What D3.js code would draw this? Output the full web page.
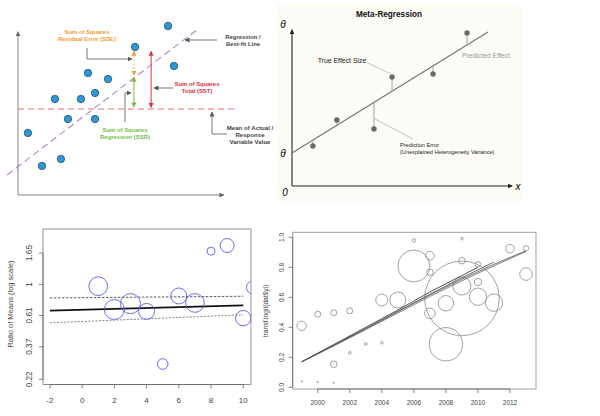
<!DOCTYPE html>
<html lang="en">
<head>
<meta charset="utf-8">
<title>regression panels</title>
<script src="https://cdn.jsdelivr.net/npm/d3@7"></script>
<style>
  body { margin: 0; background: #fff; }
  svg text { font-family: "Liberation Sans", Arial, sans-serif; }
</style>
</head>
<body>
<svg id="chart" width="600" height="416"></svg>
<script>
// ---------- data ----------
// panel 1: sum of squares sketch (arbitrary units 0-100)
var ssX = [68.2, 53.2, 70.9, 31.8, 40.9, 35.0, 16.8, 28.6, 22.7, 35.0, 4.5, 19.5, 10.9];
var ssY = [99.4, 87.1, 75.9, 71.8, 68.2, 60.0, 56.5, 56.5, 44.7, 44.7, 36.5, 21.2, 17.1];
var ssFit = [[-5, 11.8], [81.8, 97.6]];
var ssMean = 50.6;
var sseBar = [52.7, 84.5, 70.5];   // x, top, bottom
var ssrBar = [52.7, 69.3, 51.8];
var sstBar = [60.5, 84.5, 51.5];

// panel 2: meta-regression sketch
var metaX = [0.96, 2.06, 3.76, 4.59, 6.47, 8.03];
var metaY = [2.6, 4.29, 3.70, 7.08, 7.27, 9.94];
var metaIntercept = 2.14, metaSlope = 0.874, metaEnd = 8.99;

// panel 3: ratio of means (log scale)
var romX = [1, 2, 3, 4, 5, 6, 7, 8, 9, 10, 10.6];
var romY = [0.973, 0.67, 0.736, 0.65, 0.281, 0.832, 0.744, 1.70, 1.86, 0.584, 0.953];
var romW = [87, 100, 100, 64, 28, 64, 87, 16, 49, 59, 42];
var romFit = [[-2, 0.658], [10, 0.716]];
var romUpper = [[-2, 0.806], [10, 0.828]];
var romLower = [[-2, 0.542], [10, 0.616]];
var romYTicks = [0.22, 0.37, 0.61, 1, 1.65];
var romXTicks = [-2, 0, 2, 4, 6, 8, 10];

// panel 4: transf. logit by year
var yrX = [1999, 2000, 2001, 2002, 2001, 2002, 2003, 2004, 2004, 2005, 2006, 2006, 2007, 2007,
           2007, 2008, 2008, 2009, 2009, 2009, 2009, 2010, 2010, 2010, 2011, 2012, 2013, 2013,
           1999, 2000, 2001];
var yrY = [0.41, 0.487, 0.497, 0.51, 0.153, 0.23, 0.289, 0.297, 0.582, 0.582, 0.809, 0.98, 0.877, 0.767,
           0.493, 0.287, 0.56, 0.593, 0.675, 0.844, 0.991, 0.82, 0.702, 0.604, 0.564, 0.924, 0.927, 0.755,
           0.04, 0.035, 0.03];
var yrW = [1.6, 0.65, 0.65, 0.65, 0.78, 0.12, 0.12, 0.12, 2.6, 4.6, 18.4, 0.2, 1.33, 0.78,
           2.0, 20, 4.3, 100, 5.8, 0.78, 0.12, 0.52, 0.98, 5.4, 5.4, 1.33, 0.52, 2.85,
           0.03, 0.03, 0.03];
var yrFits = [
  [[1999, 0.17], [2001, 0.285], [2003, 0.40], [2005, 0.515], [2007, 0.635], [2009, 0.745], [2010, 0.80]],
  [[1999, 0.17], [2001, 0.28], [2003, 0.39], [2005, 0.505], [2007, 0.62], [2009, 0.73], [2011, 0.835]],
  [[1999, 0.17], [2001, 0.275], [2003, 0.385], [2005, 0.495], [2007, 0.605], [2009, 0.71], [2011, 0.81], [2013, 0.905]],
  [[1999, 0.17], [2001, 0.28], [2003, 0.392], [2005, 0.505], [2007, 0.615], [2009, 0.72], [2011, 0.82], [2013, 0.91]]
];
var yrXTicks = [2000, 2002, 2004, 2006, 2008, 2010, 2012];
var yrYTicks = [0, 0.2, 0.4, 0.6, 0.8, 1.0];

var svg = d3.select("#chart");

// arrow markers
var defs = svg.append("defs");
function marker(id, color, size) {
  defs.append("marker")
    .attr("id", id)
    .attr("viewBox", "0 0 10 10")
    .attr("refX", 9).attr("refY", 5)
    .attr("markerUnits", "userSpaceOnUse")
    .attr("markerWidth", size).attr("markerHeight", size)
    .attr("orient", "auto-start-reverse")
    .append("path").attr("d", "M0,0L10,5L0,10z").attr("fill", color);
}
marker("arGray", "#555", 5);
marker("arAxis", "#666", 5);
marker("arOrange", "#f39b30", 5);
marker("arGreen", "#76bd43", 5);
marker("arRed", "#d8303a", 5);
marker("arDark", "#222", 5);

var line = d3.line();

// ---------- panel 1 ----------
var p1 = svg.append("g");
var x1 = d3.scaleLinear().domain([0, 100]).range([18, 238]);
var y1 = d3.scaleLinear().domain([0, 100]).range([195, 25]);

p1.append("line").attr("x1", x1(0)).attr("y1", y1(0)).attr("x2", x1(0)).attr("y2", y1(96))
  .attr("stroke", "#777").attr("stroke-width", 0.9).attr("marker-end", "url(#arAxis)");
p1.append("line").attr("x1", x1(0)).attr("y1", y1(0)).attr("x2", x1(93.6)).attr("y2", y1(0))
  .attr("stroke", "#777").attr("stroke-width", 0.9).attr("marker-end", "url(#arAxis)");

p1.append("line").attr("x1", x1(0)).attr("x2", x1(99.5))
  .attr("y1", y1(ssMean)).attr("y2", y1(ssMean))
  .attr("stroke", "#e8706e").attr("stroke-width", 1.1).attr("stroke-dasharray", "6,4");
p1.append("path").attr("d", line(ssFit.map(function (d) { return [x1(d[0]), y1(d[1])]; })))
  .attr("fill", "none").attr("stroke", "#b584c9").attr("stroke-width", 1.1).attr("stroke-dasharray", "7,4");

function bar(b, color, mk, dash) {
  p1.append("line").attr("x1", x1(b[0])).attr("x2", x1(b[0]))
    .attr("y1", y1(b[1])).attr("y2", y1(b[2]))
    .attr("stroke", color).attr("stroke-width", 1).attr("stroke-dasharray", dash)
    .attr("marker-start", "url(#" + mk + ")").attr("marker-end", "url(#" + mk + ")");
}
bar(sseBar, "#f39b30", "arOrange", "1.5,2.5");
bar(ssrBar, "#76bd43", "arGreen", null);
bar(sstBar, "#d8303a", "arRed", null);

p1.selectAll("circle.dot").data(ssX).enter().append("circle")
  .attr("class", "dot")
  .attr("cx", function (d) { return x1(d); })
  .attr("cy", function (d, i) { return y1(ssY[i]); })
  .attr("r", 3.7)
  .attr("fill", "#2e97d6").attr("stroke", "#27506e").attr("stroke-width", 0.8);

// leaders
var leaders1 = [
  [[217, 40], [185, 40]],
  [[87, 48], [87, 59], [132, 59]],
  [[173, 88], [154, 88]],
  [[125, 122], [125, 93], [131, 93]],
  [[227, 134], [212, 134], [212, 112]]
];
leaders1.forEach(function (pts) {
  p1.append("path").attr("d", line(pts)).attr("fill", "none")
    .attr("stroke", "#555").attr("stroke-width", 0.8).attr("marker-end", "url(#arGray)");
});

function label(g, lines, x, y, color, size, weight, dy, anchor) {
  var t = g.append("text").attr("x", x).attr("y", y)
    .attr("fill", color).attr("font-size", size).attr("font-weight", weight || "normal")
    .attr("text-anchor", anchor || "middle");
  lines.forEach(function (s, i) {
    t.append("tspan").attr("x", x).attr("dy", i === 0 ? 0 : dy).text(s);
  });
  return t;
}
label(p1, ["Sum of Squares", "Residual Error (SSE)"], 87, 33.9, "#f39b30", 5.9, "bold", 7.3);
label(p1, ["Regression /", "Best-fit Line"], 243, 38.8, "#444", 5.9, "bold", 6.8);
label(p1, ["Sum of Squares", "Total (SST)"], 197, 85.6, "#d8303a", 5.9, "bold", 7.3);
label(p1, ["Sum of Squares", "Regression (SSR)"], 125, 131.6, "#76bd43", 5.9, "bold", 7.3);
label(p1, ["Mean of Actual /", "Response", "Variable Value"], 250, 129.5, "#444", 6.1, "bold", 7.2);

// ---------- panel 2 ----------
var p2 = svg.append("g");
p2.append("rect").attr("x", 277).attr("y", 4).attr("width", 245).attr("height", 198).attr("fill", "#fcfbf5");
var x2 = d3.scaleLinear().domain([0, 10]).range([292, 510]);
var y2 = d3.scaleLinear().domain([0, 10]).range([186, 32]);

p2.append("line").attr("x1", x2(0)).attr("y1", y2(0)).attr("x2", x2(0)).attr("y2", y2(10.15))
  .attr("stroke", "#222").attr("stroke-width", 1.1).attr("marker-end", "url(#arDark)");
p2.append("line").attr("x1", x2(0)).attr("y1", y2(0)).attr("x2", x2(10.1)).attr("y2", y2(0))
  .attr("stroke", "#222").attr("stroke-width", 1.1).attr("marker-end", "url(#arDark)");

function metaFit(x) { return metaIntercept + metaSlope * x; }
p2.append("line").attr("x1", x2(0)).attr("y1", y2(metaFit(0)))
  .attr("x2", x2(metaEnd)).attr("y2", y2(metaFit(metaEnd)))
  .attr("stroke", "#777").attr("stroke-width", 1.2);

p2.selectAll("line.stem").data(metaX).enter().append("line")
  .attr("class", "stem")
  .attr("x1", function (d) { return x2(d); }).attr("x2", function (d) { return x2(d); })
  .attr("y1", function (d) { return y2(metaFit(d)); })
  .attr("y2", function (d, i) { return y2(metaY[i]); })
  .attr("stroke", "#999").attr("stroke-width", 0.9);
p2.selectAll("circle.pt").data(metaX).enter().append("circle")
  .attr("class", "pt")
  .attr("cx", function (d) { return x2(d); })
  .attr("cy", function (d, i) { return y2(metaY[i]); })
  .attr("r", 2.7).attr("fill", "#6a6a6a");

p2.append("path").attr("d", line([[368, 63], [391, 74]])).attr("stroke", "#aaa").attr("stroke-width", 0.7);
p2.append("path").attr("d", line([[375, 119], [413, 139]])).attr("stroke", "#aaa").attr("stroke-width", 0.7);

label(p2, ["Meta-Regression"], 389, 17, "#111", 8.2, "bold");
label(p2, ["True Effect Size"], 342, 63.3, "#222", 6.9);
label(p2, ["Predicted Effect"], 462, 57.6, "#999", 6.8, null, 0, "start");
label(p2, ["Prediction Error", "(Unexplained Heterogeneity Variance)"], 400, 147, "#222", 5.6, null, 7.4, "start");

p2.append("text").attr("x", 283).attr("y", 28).attr("text-anchor", "middle")
  .attr("font-family", "Liberation Serif").attr("font-style", "italic").attr("font-size", 10).text("θ");
p2.append("text").attr("x", 283).attr("y", 156.5).attr("text-anchor", "middle")
  .attr("font-family", "Liberation Serif").attr("font-style", "italic").attr("font-size", 10).text("θ");
p2.append("text").attr("x", 285).attr("y", 196).attr("text-anchor", "middle")
  .attr("font-family", "Liberation Serif").attr("font-style", "italic").attr("font-size", 10).text("0");
p2.append("text").attr("x", 518).attr("y", 190).attr("text-anchor", "middle")
  .attr("font-family", "Liberation Serif").attr("font-style", "italic").attr("font-size", 10).text("x");

// ---------- R-style axis helper ----------
function rAxis(g, scale, ticks, orient, pos, fmt, size, labelOff) {
  var a = g.append("g");
  var first = scale(ticks[0]), last = scale(ticks[ticks.length - 1]);
  if (orient === "bottom") {
    a.append("line").attr("x1", first).attr("x2", last).attr("y1", pos).attr("y2", pos)
      .attr("stroke", "#666").attr("stroke-width", 0.8);
    ticks.forEach(function (t) {
      a.append("line").attr("x1", scale(t)).attr("x2", scale(t)).attr("y1", pos).attr("y2", pos + 4)
        .attr("stroke", "#666").attr("stroke-width", 0.8);
      a.append("text").attr("x", scale(t)).attr("y", pos + labelOff).attr("text-anchor", "middle")
        .attr("font-size", size).attr("fill", "#444").text(fmt(t));
    });
  } else {
    a.append("line").attr("y1", first).attr("y2", last).attr("x1", pos).attr("x2", pos)
      .attr("stroke", "#666").attr("stroke-width", 0.8);
    ticks.forEach(function (t) {
      a.append("line").attr("y1", scale(t)).attr("y2", scale(t)).attr("x1", pos).attr("x2", pos - 4)
        .attr("stroke", "#666").attr("stroke-width", 0.8);
      a.append("text").attr("transform", "translate(" + (pos - labelOff) + "," + scale(t) + ") rotate(-90)")
        .attr("text-anchor", "middle").attr("font-size", size).attr("fill", "#444").text(fmt(t));
    });
  }
}

// ---------- panel 3 ----------
var p3 = svg.append("g");
var x3 = d3.scaleLinear().domain([-2.43, 10.48]).range([43, 251]);
var y3 = d3.scaleLog().domain([Math.exp(-1.596), Math.exp(0.884)]).range([384.5, 229]);
var r3 = d3.scaleSqrt().domain([0, 100]).range([0, 10]);

p3.append("clipPath").attr("id", "clip3").append("rect")
  .attr("x", 43).attr("y", 229).attr("width", 208).attr("height", 155.5);
p3.append("rect").attr("x", 43).attr("y", 229).attr("width", 208).attr("height", 155.5)
  .attr("fill", "none").attr("stroke", "#888").attr("stroke-width", 0.9);

var l3 = d3.line().x(function (d) { return x3(d[0]); }).y(function (d) { return y3(d[1]); });
p3.append("path").attr("d", l3(romUpper)).attr("fill", "none")
  .attr("stroke", "#333").attr("stroke-width", 0.8).attr("stroke-dasharray", "2.5,1.5");
p3.append("path").attr("d", l3(romLower)).attr("fill", "none")
  .attr("stroke", "#666").attr("stroke-width", 0.8).attr("stroke-dasharray", "2,1.5");
p3.append("path").attr("d", l3(romFit)).attr("fill", "none")
  .attr("stroke", "#111").attr("stroke-width", 1.9);

p3.append("g").attr("clip-path", "url(#clip3)")
  .selectAll("circle").data(romX).enter().append("circle")
  .attr("cx", function (d) { return x3(d); })
  .attr("cy", function (d, i) { return y3(romY[i]); })
  .attr("r", function (d, i) { return r3(romW[i]); })
  .attr("fill", "none").attr("stroke", "#5a5af5").attr("stroke-width", 0.9);

rAxis(p3, x3, romXTicks, "bottom", 384.5, function (d) { return d; }, 8, 18.6);
rAxis(p3, y3, romYTicks, "left", 43, function (d) { return d; }, 8.2, 11);
p3.append("text").attr("transform", "translate(12.8,304) rotate(-90)")
  .attr("text-anchor", "middle").attr("font-size", 7.5).attr("fill", "#444")
  .text("Ratio of Means (log scale)");

// ---------- panel 4 ----------
var p4 = svg.append("g");
var x4 = d3.scaleLinear().domain([1999, 2012]).range([301.7, 510]);
var y4 = d3.scaleLinear().domain([0, 1]).range([387.3, 237.3]);
var r4 = d3.scaleSqrt().domain([0, 100]).range([0, 37.3]);

p4.append("clipPath").attr("id", "clip4").append("rect")
  .attr("x", 292.7).attr("y", 232.3).attr("width", 243.3).attr("height", 156.7);
p4.append("rect").attr("x", 292.7).attr("y", 232.3).attr("width", 243.3).attr("height", 156.7)
  .attr("fill", "none").attr("stroke", "#999").attr("stroke-width", 0.9);

var g4 = p4.append("g").attr("clip-path", "url(#clip4)");
g4.selectAll("circle").data(yrX).enter().append("circle")
  .attr("cx", function (d) { return x4(d); })
  .attr("cy", function (d, i) { return y4(yrY[i]); })
  .attr("r", function (d, i) { return Math.max(0.6, r4(yrW[i])); })
  .attr("fill", "none").attr("stroke", "#8a8a8a").attr("stroke-width", 0.8);

var l4 = d3.line().curve(d3.curveMonotoneX)
  .x(function (d) { return x4(d[0]); }).y(function (d) { return y4(d[1]); });
var fitColors = ["#222", "#444", "#666", "#555"];
yrFits.forEach(function (f, i) {
  g4.append("path").attr("d", l4(f)).attr("fill", "none")
    .attr("stroke", fitColors[i]).attr("stroke-width", 0.8);
});

rAxis(p4, x4, yrXTicks, "bottom", 389, function (d) { return d; }, 6.5, 15.5);
rAxis(p4, y4, yrYTicks, "left", 292.7, d3.format(".1f"), 6.6, 8.8);
p4.append("text").attr("transform", "translate(268.3,311) rotate(-90)")
  .attr("text-anchor", "middle").attr("font-size", 6.6).attr("fill", "#444")
  .text("transf.logit(dat$yi)");
</script>
</body>
</html>
